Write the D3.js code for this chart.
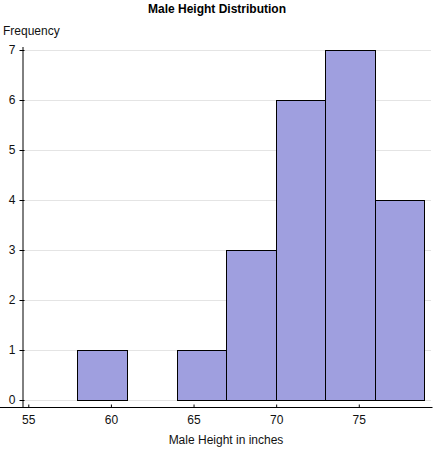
<!DOCTYPE html>
<html>
<head>
<meta charset="utf-8">
<script src="https://cdn.jsdelivr.net/npm/d3@7"></script>
<style>
  body { margin: 0; background: #fff; }
  text { font-family: "Liberation Sans", Arial, sans-serif; }
</style>
</head>
<body>
<div class="canvas"></div>
<script>
// Data
const binStarts = [58, 61, 64, 67, 70, 73, 76]
const binWidth = 3
const counts = [1, 0, 1, 3, 6, 7, 4]
const xTicks = [55, 60, 65, 70, 75]
const yTicks = [0, 1, 2, 3, 4, 5, 6, 7]

const wWidth = 434
const wHeight = 450

const svg = d3.select('.canvas')
    .append('svg')
    .attr('width', wWidth)
    .attr('height', wHeight)

// Scales (axis lines run a bit past the data area, like the reference)
const xScale = d3.scaleLinear()
    .domain([54.65, 79.4])
    .range([22, 431])
const yScale = d3.scaleLinear()
    .domain([-0.15, 7.07])
    .range([407, 46])

// Grid lines
svg.append('g')
    .selectAll('line')
    .data(yTicks)
    .enter()
    .append('line')
    .attr('x1', 23)
    .attr('x2', 431)
    .attr('y1', d => Math.round(yScale(d)) + 0.5)
    .attr('y2', d => Math.round(yScale(d)) + 0.5)
    .attr('stroke', '#e4e4e4')

// Bars
const bins = binStarts.map((s, i) => ({from: s, to: s + binWidth, count: counts[i]}))
svg.append('g')
    .selectAll('rect')
    .data(bins.filter(d => d.count > 0))
    .enter()
    .append('rect')
    .attr('x', d => Math.round(xScale(d.from)) + 0.5)
    .attr('y', d => Math.round(yScale(d.count)) + 0.5)
    .attr('width', d => Math.round(xScale(d.to)) - Math.round(xScale(d.from)))
    .attr('height', d => Math.round(yScale(0)) - Math.round(yScale(d.count)))
    .attr('fill', '#9f9fdf')
    .attr('stroke', '#000')
    .attr('stroke-width', 1)

// X axis
const xAxis = d3.axisBottom(xScale)
    .tickValues(xTicks)
    .tickSizeInner(-3)
    .tickSizeOuter(0)
    .tickPadding(8)
const xAxisGroup = svg.append('g')
    .attr('transform', 'translate(0.5, 407.5)')
    .call(xAxis)
xAxisGroup.select('.domain').attr('d', 'M-1.5,0H' + (431 + 1))
xAxisGroup.selectAll('text')
    .attr('font-size', 12)
    .attr('fill', '#111')
    .attr('font-family', '"Liberation Sans", Arial, sans-serif')

// Y axis
const yAxis = d3.axisLeft(yScale)
    .tickValues(yTicks)
    .tickSizeInner(2)
    .tickSizeOuter(0)
    .tickPadding(5)
const yAxisGroup = svg.append('g')
    .attr('transform', 'translate(22.5, 0.5)')
    .call(yAxis)
yAxisGroup.selectAll('.tick line').attr('x2', 2).attr('x1', -3)
yAxisGroup.selectAll('.tick')
    .attr('transform', d => `translate(0, ${Math.round(yScale(d))})`)
yAxisGroup.selectAll('text')
    .attr('font-size', 12)
    .attr('fill', '#111')
    .attr('font-family', '"Liberation Sans", Arial, sans-serif')

// Titles
svg.append('text')
    .attr('x', 217)
    .attr('y', 13)
    .attr('text-anchor', 'middle')
    .attr('font-size', 12)
    .attr('font-weight', 'bold')
    .text('Male Height Distribution')
svg.append('text')
    .attr('x', 3)
    .attr('y', 35)
    .attr('font-size', 12)
    .attr('fill', '#111')
    .text('Frequency')
svg.append('text')
    .attr('x', 226)
    .attr('y', 444)
    .attr('text-anchor', 'middle')
    .attr('font-size', 12)
    .attr('fill', '#111')
    .text('Male Height in inches')
</script>
</body>
</html>
